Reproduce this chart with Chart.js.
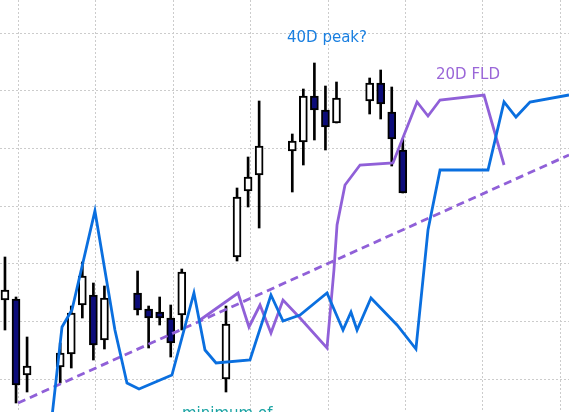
<!DOCTYPE html>
<html><head><meta charset="utf-8">
<script src="https://cdn.jsdelivr.net/npm/chart.js@4"></script>
<style>html,body{margin:0;padding:0;background:#fff}#w{width:569px;height:412px}</style>
</head><body><div id="w"><canvas id="c"></canvas></div>
<script>
// candles: day index, open, high, low, close (price units)
const days  = [0,1,2,5,6,7,8,9,12,13,14,15,16,20,21,22,23,26,27,28,29,30,33,34,35,36];
const opens = [112,113,37,45,58,107,117,72,119,103,100,94,97,33,155,221,237,261,270,316,302,289,311,329,300,262];
const closes= [122,27,46,59,99,136,67,114,102,94,94,69,140,88,215,235,266,271,316,302,285,314,329,308,273,219];
const highs = [155,115,75,69,106,150,129,126,141,106,115,107,143,106,224,255,311,278,323,349,326,330,334,342,325,273];
const lows  = [82,9,20,29,44,94,52,63,97,64,87,55,82,20,151,205,184,220,247,272,262,289,298,293,246,219];
// cycle line (blue)
const blueX = [4.25,5.16,6.06,8.14,9.95,11.04,12.13,15.11,17.1,18.1,19.1,22.17,24.07,25.16,26.7,29.14,30.59,31.31,31.86,33.12,35.48,37.19,38.28,39.37,43.71,45.16,46.24,47.51,51.04];
const blueY = [-5,85,102,201,82,29,23,37,119,62,49,52,117,91,97,119,82,100,82,114,87,63,182,242,242,310,295,310,317];
// 20D FLD (purple)
const purpX = [17.65,21.09,22.08,23.08,24.07,25.16,26.7,29.14,29.77,30.05,30.77,32.13,35.11,37.29,38.28,39.37,43.35,45.16];
const purpY = [92,119,85,107,79,112,94,64,142,187,227,247,249,310,296,312,317,247];
// trend line
const trendX = [1.18,51.04];
const trendY = [9,257];

const bodies = days.map((d,i)=>({x:d,y:[opens[i],closes[i]]}));
const wicks = days.map((d,i)=>({x:d,y:[lows[i],highs[i]]}));
const bodyBg = days.map((d,i)=>closes[i]>=opens[i]?'#ffffff':'#0c0c7a');

const labels = {
  id:'labels',
  afterDraw(ch){
    const c=ch.ctx; c.save(); c.font='15px "DejaVu Sans", sans-serif'; c.textBaseline='alphabetic';
    c.fillStyle='#1a7fe0'; c.fillText('40D peak?',287,42);
    c.fillStyle='#9a66d8'; c.fillText('20D FLD',436,79);
    c.fillStyle='#1aa3a3'; c.fillText('minimum of',182,418);
    c.restore();
  }
};

new Chart(document.getElementById('c'),{
  type:'bar',
  data:{datasets:[
    {type:'line',data:trendX.map((x,i)=>({x,y:trendY[i]})),borderColor:'#9060d8',borderWidth:2.8,borderDash:[8,5],pointRadius:0,order:1},
    {type:'line',data:purpX.map((x,i)=>({x,y:purpY[i]})),borderColor:'#9060d8',borderWidth:2.8,pointRadius:0,order:1},
    {type:'line',data:blueX.map((x,i)=>({x,y:blueY[i]})),borderColor:'#0a6fdf',borderWidth:2.8,pointRadius:0,order:0},
    {data:wicks,backgroundColor:'#000',barThickness:2,grouped:false,order:3},
    {data:bodies,backgroundColor:bodyBg,borderColor:'#000',borderWidth:2,borderSkipped:false,barThickness:8,grouped:false,order:2}
  ]},
  plugins:[labels],
  options:{
    responsive:true,maintainAspectRatio:false,animation:false,
    layout:{padding:0},
    plugins:{legend:{display:false},tooltip:{enabled:false}},
    scales:{
      x:{type:'linear',min:-0.45,max:51.04,offset:false,border:{display:false,dash:[2,2]},
         afterBuildTicks(s){s.ticks=[0,1,2,3,4,5,6].map(k=>({value:4.7+7.01*k}));},
         grid:{color:'#cccccc',lineWidth:1,tickLength:0},ticks:{display:false}},
      y:{type:'linear',min:0,max:412,border:{display:false,dash:[2,2]},
         afterBuildTicks(s){s.ticks=[0,1,2,3,4,5,6].map(k=>({value:32.7+57.7*k}));},
         grid:{color:'#cccccc',lineWidth:1,tickLength:0},ticks:{display:false}}
    }
  }
});
</script></body></html>
